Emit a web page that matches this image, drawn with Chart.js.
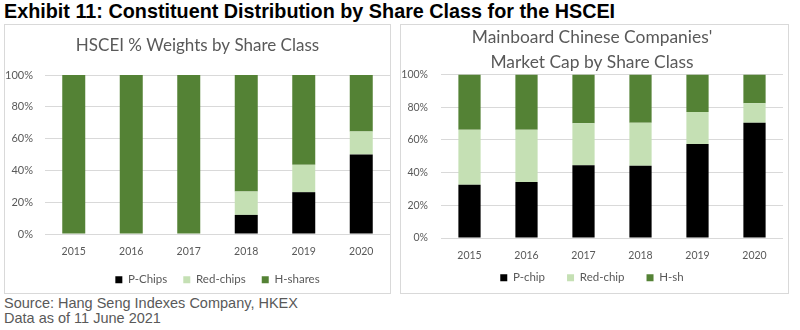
<!DOCTYPE html>
<html>
<head>
<meta charset="utf-8">
<script src="https://cdn.jsdelivr.net/npm/chart.js@4"></script>
<style>
    html, body { margin: 0; padding: 0; background: #fff; }
    body { width: 800px; height: 330px; position: relative; overflow: hidden; }
    .exhibit {
        position: absolute; left: 4px; top: 0px; line-height: 20px;
        font: bold 19.8px "Liberation Sans", Arial, sans-serif; color: #000;
        white-space: nowrap;
    }
    .panel {
        position: absolute; top: 24px; height: 270px;
        box-sizing: border-box; border: 1px solid #d9d9d9; background: #fff;
    }
    #leftPanel { left: 4px; width: 387px; }
    #rightPanel { left: 400px; width: 389px; }
    .panel canvas { display: block; }
    .source {
        position: absolute; left: 4px; top: 296px;
        font: 14.5px "Liberation Sans", Arial, sans-serif;
        color: #595959; line-height: 15px; white-space: nowrap;
    }
</style>
</head>
<body>
<div class="exhibit">Exhibit 11: Constituent Distribution by Share Class for the HSCEI</div>
<div class="panel" id="leftPanel"><canvas id="hsceiChart" width="385" height="268"></canvas></div>
<div class="panel" id="rightPanel"><canvas id="mainboardChart" width="387" height="268"></canvas></div>
<div class="source">Source: Hang Seng Indexes Company, HKEX<br>Data as of 11 June 2021</div>

<script>
// Data (percent of total)
const years = ['2015', '2016', '2017', '2018', '2019', '2020'];

const hsceiPChips = [0, 0, 0, 12, 26.3, 50];
const hsceiRedChips = [0, 0, 0, 14.7, 17.2, 14.5];
const hsceiHShares = [100, 100, 100, 73.3, 56.5, 35.5];

const mainPChip = [32.5, 34.3, 44.5, 44.1, 57.5, 70.5];
const mainRedChip = [33.6, 31.8, 25.6, 26.4, 19.5, 11.8];
const mainHSh = [33.9, 33.9, 29.9, 29.5, 23.0, 17.7];

const yTicks = [0, 20, 40, 60, 80, 100];

const COLORS = {
    pChip: '#000000',
    redChip: '#c5e0b4',
    hShare: '#548235',
    text: '#595959',
    grid: '#d9d9d9'
};

const FONT_FAMILY = 'Lato, "Open Sans", sans-serif';

// Moves the bottom legend to a fixed top position (canvas px)
const legendOffset = {
    id: 'legendOffset',
    afterLayout(chart, _args, opts) {
        const legend = chart.legend;
        if (!legend || opts.top == null) return;
        const h = legend.bottom - legend.top;
        legend.top = opts.top;
        legend.bottom = opts.top + h;
    }
};

/**
 * Build a stacked 100% bar chart
 */
function makeStackedChart(canvasId, cfg) {
    const ctx = document.getElementById(canvasId).getContext('2d');

    return new Chart(ctx, {
        type: 'bar',
        plugins: [legendOffset],
        data: {
            labels: years,
            datasets: cfg.series.map(s => ({
                label: s.label,
                data: s.data,
                backgroundColor: s.color,
                borderWidth: 0,
                categoryPercentage: 1,
                barPercentage: cfg.barPercentage,
            }))
        },
        options: {
            responsive: false,
            animation: false,
            events: [],
            layout: { padding: cfg.layoutPadding },
            plugins: {
                title: {
                    display: true,
                    text: cfg.title,
                    color: COLORS.text,
                    font: { family: FONT_FAMILY, size: cfg.titleSize, weight: 'normal', lineHeight: cfg.titleLineHeight },
                    padding: cfg.titlePadding
                },
                legend: {
                    position: 'bottom',
                    fullSize: cfg.legendFullSize,
                    labels: {
                        color: COLORS.text,
                        font: { family: FONT_FAMILY, size: 11.5 },
                        boxWidth: 7,
                        boxHeight: 7,
                        padding: cfg.legendPadding
                    }
                },
                legendOffset: { top: cfg.legendTop },
                tooltip: { enabled: false }
            },
            scales: {
                x: {
                    stacked: true,
                    grid: { display: false, drawTicks: false },
                    border: { display: false },
                    ticks: {
                        color: COLORS.text,
                        font: { family: FONT_FAMILY, size: 10.5 },
                        padding: 11,
                        maxRotation: 0
                    },
                    afterFit: (scale) => { scale.height = 24; }
                },
                y: {
                    stacked: true,
                    min: 0,
                    max: 100,
                    afterBuildTicks: (scale) => {
                        scale.ticks = yTicks.map(v => ({ value: v }));
                    },
                    grid: { color: COLORS.grid, lineWidth: 1, drawTicks: false },
                    border: { display: false },
                    ticks: {
                        color: COLORS.text,
                        font: { family: FONT_FAMILY, size: cfg.yTickSize },
                        padding: cfg.yTickPadding,
                        callback: (value) => value + '%'
                    },
                    afterFit: (scale) => { scale.width = cfg.yAxisWidth; }
                }
            }
        }
    });
}

makeStackedChart('hsceiChart', {
    title: 'HSCEI % Weights by Share Class',
    titleSize: 17,
    titleLineHeight: 1.2,
    titlePadding: { top: 10, bottom: 19.6 },
    layoutPadding: { left: 0, right: 0, top: 0, bottom: -2.5 },
    barPercentage: 0.4,
    yAxisWidth: 40,
    yTickSize: 11,
    yTickPadding: 12,
    legendPadding: 16,
    legendFullSize: false,
    legendTop: 233,
    series: [
        { label: 'P-Chips', data: hsceiPChips, color: COLORS.pChip },
        { label: 'Red-chips', data: hsceiRedChips, color: COLORS.redChip },
        { label: 'H-shares', data: hsceiHShares, color: COLORS.hShare }
    ]
});

makeStackedChart('mainboardChart', {
    title: ["Mainboard Chinese Companies'", 'Market Cap by Share Class'],
    titleSize: 17.4,
    titleLineHeight: 1.42,
    titlePadding: { top: 0, bottom: 0 },
    layoutPadding: { left: 0, right: 5, top: 0, bottom: -12.5 },
    barPercentage: 0.39,
    yAxisWidth: 40,
    yTickSize: 10.5,
    yTickPadding: 13,
    legendPadding: 22,
    legendFullSize: true,
    legendTop: 225,
    series: [
        { label: 'P-chip', data: mainPChip, color: COLORS.pChip },
        { label: 'Red-chip', data: mainRedChip, color: COLORS.redChip },
        { label: 'H-sh', data: mainHSh, color: COLORS.hShare }
    ]
});
</script>
</body>
</html>
